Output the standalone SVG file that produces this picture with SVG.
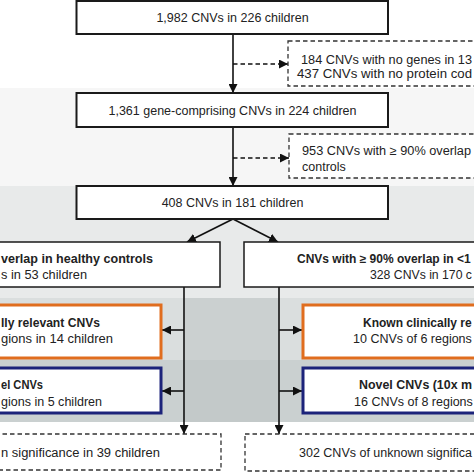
<svg xmlns="http://www.w3.org/2000/svg" width="474" height="474" viewBox="0 0 474 474">
<style>
.t{font-family:"Liberation Sans",Arial,sans-serif;font-size:12.5px;fill:#222}
.b{font-weight:bold}
.s12{font-size:12px}
.box{fill:#fff;stroke:#1a1a1a;stroke-width:2}
.box2{fill:#fff;stroke:#1a1a1a;stroke-width:1.5}
.dash{fill:#fff;stroke:#333;stroke-width:1.3;stroke-dasharray:4.5 3}
.org{fill:#fff;stroke:#e06d1e;stroke-width:3}
.nav{fill:#fff;stroke:#1c237a;stroke-width:3}
.ln{stroke:#111;stroke-width:1.6;fill:none}
.dl{stroke:#111;stroke-width:1.5;fill:none;stroke-dasharray:4.5 3}
</style>
<defs>
<marker id="ah" viewBox="0 0 10 10" refX="10" refY="5" markerWidth="9" markerHeight="9" orient="auto" markerUnits="userSpaceOnUse"><path d="M0,0 L10,5 L0,10 z" fill="#111"/></marker>
</defs>
<g id="background">
<rect x="0" y="88" width="474" height="98" fill="#f6f6f6"/>
<rect x="0" y="186" width="474" height="112" fill="#e8eaea"/>
<rect x="0" y="298" width="474" height="62" fill="#dadede"/>
<rect x="185" y="298" width="93" height="62" fill="#cbd0d0"/>
<rect x="0" y="360" width="474" height="62" fill="#cad0d0"/>
<rect x="185" y="360" width="93" height="62" fill="#c3c9c9"/>
</g>
<g id="connectors">
<line class="ln" x1="233" y1="34" x2="233" y2="93" marker-end="url(#ah)"/>
<line class="dl" x1="233" y1="64" x2="288" y2="64" marker-end="url(#ah)"/>
<line class="ln" x1="233" y1="127" x2="233" y2="186" marker-end="url(#ah)"/>
<line class="dl" x1="233" y1="158" x2="289" y2="158" marker-end="url(#ah)"/>
<line class="ln" x1="233" y1="219" x2="187" y2="242" marker-end="url(#ah)"/>
<line class="ln" x1="233" y1="219" x2="278" y2="242" marker-end="url(#ah)"/>
<line class="ln" x1="184" y1="287" x2="184" y2="434" marker-end="url(#ah)"/>
<line class="ln" x1="279" y1="287" x2="279" y2="434" marker-end="url(#ah)"/>
<line class="ln" x1="184" y1="330" x2="162" y2="330" marker-end="url(#ah)"/>
<line class="ln" x1="279" y1="330" x2="302" y2="330" marker-end="url(#ah)"/>
<line class="ln" x1="184" y1="391" x2="162" y2="391" marker-end="url(#ah)"/>
<line class="ln" x1="279" y1="391" x2="302" y2="391" marker-end="url(#ah)"/>
</g>
<g id="n1"><rect class="box" x="76.5" y="1" width="311.5" height="33"/><text class="t" x="232.5" y="22" text-anchor="middle">1,982 CNVs in 226 children</text></g>
<g id="n2"><rect class="dash" x="288" y="41" width="200" height="45"/><text class="t" x="301" y="64" textLength="171" lengthAdjust="spacingAndGlyphs">184 CNVs with no genes in 13</text><text class="t" x="297" y="78" textLength="175" lengthAdjust="spacingAndGlyphs">437 CNVs with no protein cod</text></g>
<g id="n3"><rect class="box" x="76.5" y="93" width="311.5" height="34"/><text class="t" x="232.5" y="114.5" text-anchor="middle">1,361 gene-comprising  CNVs in 224 children</text></g>
<g id="n4"><rect class="dash" x="289" y="134" width="200" height="44"/><text class="t" x="302" y="155" textLength="169" lengthAdjust="spacingAndGlyphs">953 CNVs with ≥ 90% overlap</text><text class="t" x="302" y="171">controls</text></g>
<g id="n5"><rect class="box" x="76.5" y="186" width="311.5" height="33"/><text class="t" x="232.5" y="207" text-anchor="middle">408 CNVs in 181 children</text></g>
<g id="n6"><rect class="box2" x="-20" y="242" width="240" height="45"/><text class="t b" x="1" y="262.5" textLength="152" lengthAdjust="spacingAndGlyphs">verlap in healthy controls</text><text class="t" x="1" y="278.5" textLength="86" lengthAdjust="spacingAndGlyphs">s in 53 children</text></g>
<g id="n7"><rect class="box2" x="244" y="242" width="250" height="45"/><text class="t b s12" x="297" y="262.5">CNVs with ≥ 90% overlap in &lt;1</text><text class="t" x="370" y="278.5" textLength="102" lengthAdjust="spacingAndGlyphs">328 CNVs in 170 c</text></g>
<g id="n8"><rect class="org" x="-20" y="305" width="181" height="53"/><text class="t b" x="1" y="326.5" textLength="99" lengthAdjust="spacingAndGlyphs">lly relevant CNVs</text><text class="t" x="1" y="342.5" textLength="112" lengthAdjust="spacingAndGlyphs">gions in 14 children</text></g>
<g id="n9"><rect class="org" x="303" y="305" width="200" height="53"/><text class="t b s12" x="363" y="326.5">Known clinically re</text><text class="t" x="353" y="342.5">10 CNVs of 6 regions</text></g>
<g id="n10"><rect class="nav" x="-20" y="368" width="181" height="45"/><text class="t b" x="1" y="388.5" textLength="42" lengthAdjust="spacingAndGlyphs">el CNVs</text><text class="t" x="1" y="405.5" textLength="101" lengthAdjust="spacingAndGlyphs">gions in 5 children</text></g>
<g id="n11"><rect class="nav" x="303" y="368" width="200" height="45"/><text class="t b" x="359" y="388.5" textLength="113" lengthAdjust="spacingAndGlyphs">Novel CNVs (10x m</text><text class="t" x="354" y="405.5">16 CNVs of 8 regions</text></g>
<g id="n12"><rect class="dash" x="-20" y="434" width="241" height="36"/><text class="t" x="1" y="456.5" textLength="159" lengthAdjust="spacingAndGlyphs">n significance in 39 children</text></g>
<g id="n13"><rect class="dash" x="245" y="434" width="240" height="37"/><text class="t" x="299" y="456.5" textLength="173" lengthAdjust="spacingAndGlyphs">302 CNVs of unknown significa</text></g>
</svg>
